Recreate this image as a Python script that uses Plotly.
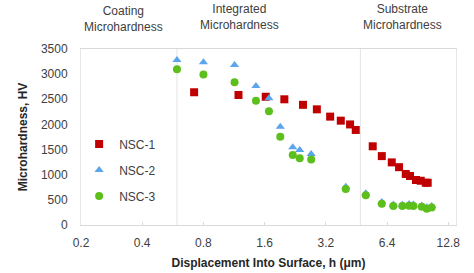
import plotly.graph_objects as go

# Data
nsc1_x = [0.72, 1.19, 1.62, 2.00, 2.47, 2.89, 3.36, 3.79, 4.21, 4.49,
          5.44, 6.03, 6.75, 7.33, 7.91, 8.30, 8.88, 9.37, 9.92, 10.14]
nsc1_y = [2640, 2585, 2550, 2500, 2390, 2300, 2155, 2075, 2000, 1890,
          1565, 1370, 1245, 1150, 1015, 975, 895, 880, 840, 840]

nsc2_x = [0.593, 0.80, 1.138, 1.45, 1.68, 1.91, 2.20, 2.38, 2.71, 4.01,
          5.03, 6.03, 6.87, 7.61, 8.21, 8.62, 9.48, 10.03, 10.61]
nsc2_y = [3280, 3235, 3180, 2765, 2520, 1955, 1545, 1490, 1410, 760,
          630, 455, 410, 405, 420, 410, 390, 355, 380]

nsc3_x = [0.593, 0.80, 1.138, 1.45, 1.68, 1.91, 2.20, 2.38, 2.71, 4.01,
          5.03, 6.03, 6.87, 7.61, 8.21, 8.62, 9.48, 10.03, 10.61]
nsc3_y = [3095, 2995, 2840, 2470, 2260, 1755, 1390, 1325, 1305, 715,
          590, 425, 380, 380, 385, 380, 365, 325, 350]

x_ticks = [0.2, 0.4, 0.8, 1.6, 3.2, 6.4, 12.8]
x_tick_text = ["0.2", "0.4", "0.8", "1.6", "3.2", "6.4", "12.8"]
y_ticks = [0, 500, 1000, 1500, 2000, 2500, 3000, 3500]

region_bounds = [0.593, 4.73]
region_labels = ["Coating<br>Microhardness", "Integrated<br>Microhardness",
                 "Substrate<br>Microhardness"]

FONT = "Liberation Sans, Arial, sans-serif"

fig = go.Figure()
fig.add_trace(go.Scatter(x=nsc1_x, y=nsc1_y, mode="markers", name="NSC-1",
                         legendgroup="a",
                         marker=dict(symbol="square", size=8, color="#C00000")))
fig.add_trace(go.Scatter(x=nsc2_x, y=nsc2_y, mode="markers", name="NSC-2",
                         legendgroup="b",
                         marker=dict(symbol="triangle-up", size=8, color="#5AA5EC")))
fig.add_trace(go.Scatter(x=nsc3_x, y=nsc3_y, mode="markers", name="NSC-3",
                         legendgroup="c",
                         marker=dict(symbol="circle", size=8, color="#5CBF1C")))

for xb in region_bounds:
    fig.add_shape(type="line", xref="x", yref="paper", x0=xb, x1=xb, y0=0, y1=1,
                  line=dict(color="#E4E4E4", width=1), layer="below")

label_x = [0.1127, 0.4218, 0.856]
label_y = [1.172, 1.18, 1.18]
for lx, ly, txt in zip(label_x, label_y, region_labels):
    fig.add_annotation(text=txt, x=lx, y=ly, xref="paper", yref="paper",
                       xanchor="center", yanchor="middle", showarrow=False,
                       font=dict(family=FONT, size=12, color="#404040"))

fig.update_layout(
    width=474, height=273,
    margin=dict(l=81, r=18, t=49, b=48, autoexpand=False),
    paper_bgcolor="white", plot_bgcolor="white",
    font=dict(family=FONT, size=12, color="#404040"),
    showlegend=True,
    legend=dict(x=-0.005, y=0.3125, xanchor="left", yanchor="middle",
                bgcolor="rgba(0,0,0,0)", tracegroupgap=7,
                font=dict(family=FONT, size=12, color="#404040"),
                itemwidth=30),
    xaxis=dict(type="log", range=[-0.69897, 1.1452], automargin=False,
               tickvals=x_ticks, ticktext=x_tick_text,
               showgrid=False, zeroline=False,
               showline=True, linecolor="#D9D9D9", mirror=True, linewidth=1,
               ticks="inside", ticklen=3, tickcolor="#D9D9D9",
               ticklabelstandoff=7,
               tickfont=dict(family=FONT, size=12, color="#404040"),
               title=dict(text="<b>Displacement Into Surface, h (μm)</b>",
                          font=dict(family=FONT, size=12, color="#262626"),
                          standoff=9)),
    yaxis=dict(range=[0, 3500], tickvals=y_ticks, automargin=False,
               showgrid=False, zeroline=False,
               showline=True, linecolor="#E6E6E6", mirror=True, linewidth=1,
               ticks="", ticklabelstandoff=10,
               tickfont=dict(family=FONT, size=12, color="#404040"),
               title=dict(text="<b>Microhardness, HV</b>",
                          font=dict(family=FONT, size=12, color="#262626"),
                          standoff=10)),
)

fig.write_html("out.html")
